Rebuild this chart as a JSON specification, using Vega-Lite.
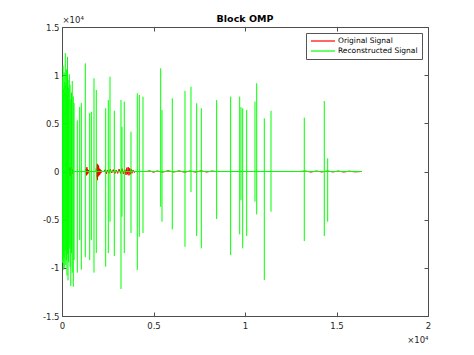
{
  "$schema": "https://vega.github.io/schema/vega-lite/v6.json",
  "width": 366,
  "height": 289,
  "autosize": "none",
  "padding": {"left": 62, "top": 27, "right": 46, "bottom": 39},
  "background": "white",
  "config": {
    "view": {"stroke": null},
    "font": "DejaVu Sans",
    "axis": {
      "grid": false,
      "domainColor": "#4d4d4d",
      "domainWidth": 1,
      "tickColor": "#4d4d4d",
      "tickSize": -4,
      "labelFont": "DejaVu Sans",
      "labelFontSize": 8.5,
      "labelColor": "#262626",
      "titleFont": "DejaVu Sans",
      "titleFontSize": 8.5,
      "titleFontWeight": "normal",
      "titleColor": "#262626"
    }
  },
  "title": {"text": "Block OMP", "fontSize": 9.5, "fontWeight": "bold", "color": "black", "offset": -8, "font": "DejaVu Sans"},
  "datasets": {
    "orig": [
      {"x": 0, "y": 0}, {"x": 380, "y": 0}, {"x": 400, "y": 350}, {"x": 420, "y": -300}, {"x": 440, "y": 450}, {"x": 460, "y": -500}, {"x": 480, "y": 300}, {"x": 500, "y": -350}, {"x": 520, "y": 500}, {"x": 540, "y": -250}, {"x": 560, "y": 200}, {"x": 580, "y": -150}, {"x": 600, "y": 100}, {"x": 620, "y": 0},
      {"x": 1300, "y": 0}, {"x": 1320, "y": 300}, {"x": 1340, "y": -400}, {"x": 1360, "y": 450}, {"x": 1380, "y": -300}, {"x": 1400, "y": 250}, {"x": 1420, "y": -200}, {"x": 1440, "y": 150}, {"x": 1460, "y": 0},
      {"x": 1860, "y": 0}, {"x": 1880, "y": 400}, {"x": 1900, "y": -600}, {"x": 1920, "y": 800}, {"x": 1940, "y": -900}, {"x": 1960, "y": 700}, {"x": 1980, "y": -500}, {"x": 2000, "y": 600}, {"x": 2020, "y": -400}, {"x": 2040, "y": 300}, {"x": 2060, "y": -350}, {"x": 2080, "y": 250}, {"x": 2100, "y": -200}, {"x": 2130, "y": 150}, {"x": 2160, "y": -100}, {"x": 2200, "y": 0},
      {"x": 2300, "y": 0}, {"x": 2360, "y": 200}, {"x": 2420, "y": -250}, {"x": 2480, "y": 150}, {"x": 2560, "y": -200}, {"x": 2640, "y": 250}, {"x": 2720, "y": -150}, {"x": 2800, "y": 200}, {"x": 2880, "y": -250}, {"x": 2960, "y": 150}, {"x": 3040, "y": -200}, {"x": 3120, "y": 250}, {"x": 3200, "y": -200}, {"x": 3280, "y": 300}, {"x": 3360, "y": -250}, {"x": 3440, "y": 200}, {"x": 3500, "y": -350}, {"x": 3540, "y": 400}, {"x": 3580, "y": -300}, {"x": 3620, "y": 450}, {"x": 3660, "y": -400}, {"x": 3700, "y": 350}, {"x": 3740, "y": -300}, {"x": 3780, "y": 250}, {"x": 3820, "y": -200}, {"x": 3880, "y": 150}, {"x": 3940, "y": -100}, {"x": 4000, "y": 0},
      {"x": 4600, "y": 0}, {"x": 4800, "y": 70}, {"x": 5000, "y": -80}, {"x": 5200, "y": 60}, {"x": 5500, "y": -70}, {"x": 5800, "y": 80}, {"x": 6100, "y": -60}, {"x": 6400, "y": 70}, {"x": 6700, "y": -80}, {"x": 7000, "y": 60}, {"x": 7300, "y": -70}, {"x": 7600, "y": 80}, {"x": 7900, "y": -60}, {"x": 8200, "y": 50}, {"x": 8400, "y": 0},
      {"x": 13000, "y": 0}, {"x": 13300, "y": 50}, {"x": 13600, "y": -60}, {"x": 13900, "y": 50}, {"x": 14200, "y": -50}, {"x": 14500, "y": 60}, {"x": 14800, "y": -50}, {"x": 15100, "y": 50}, {"x": 15400, "y": -60}, {"x": 15700, "y": 40}, {"x": 16000, "y": -40}, {"x": 16384, "y": 0}
    ],
    "spikes": [
      {"x": 30, "top": 9800, "bot": -9500},
      {"x": 60, "top": 11000, "bot": -8800},
      {"x": 90, "top": 8600, "bot": -10200},
      {"x": 120, "top": 10300, "bot": -9000},
      {"x": 150, "top": 9300, "bot": -10000},
      {"x": 180, "top": 12300, "bot": -8200},
      {"x": 210, "top": 9000, "bot": -9700},
      {"x": 240, "top": 10600, "bot": -9200},
      {"x": 270, "top": 8200, "bot": -10800},
      {"x": 300, "top": 11900, "bot": -8600},
      {"x": 330, "top": 9500, "bot": -11300},
      {"x": 360, "top": 8700, "bot": -9400},
      {"x": 400, "top": 10100, "bot": -8000},
      {"x": 440, "top": 9000, "bot": -9900},
      {"x": 480, "top": 7500, "bot": -11900},
      {"x": 520, "top": 8200, "bot": -8500},
      {"x": 560, "top": 9400, "bot": -10500},
      {"x": 617, "top": 7800, "bot": -11960},
      {"x": 660, "top": 7100, "bot": -9200},
      {"x": 836, "top": 5300, "bot": -10500},
      {"x": 967, "top": 6700, "bot": -7100},
      {"x": 1055, "top": 7100, "bot": -10200},
      {"x": 1273, "top": 11230, "bot": -8900},
      {"x": 1514, "top": 6070, "bot": -9190},
      {"x": 1601, "top": 6200, "bot": -7100},
      {"x": 1748, "top": 9680, "bot": -10500},
      {"x": 1874, "top": 8460, "bot": -8460},
      {"x": 2388, "top": 6560, "bot": -9880},
      {"x": 2530, "top": 7420, "bot": -8460},
      {"x": 2623, "top": 9840, "bot": -5210},
      {"x": 2858, "top": 6310, "bot": -8770},
      {"x": 3224, "top": 7420, "bot": -12200},
      {"x": 3278, "top": 4650, "bot": -4690},
      {"x": 3404, "top": 7250, "bot": -8460},
      {"x": 3770, "top": 4130, "bot": -6380},
      {"x": 4114, "top": 8120, "bot": -10220},
      {"x": 4224, "top": 7940, "bot": -6770},
      {"x": 4426, "top": 7770, "bot": -6380},
      {"x": 5393, "top": 10710, "bot": -3650},
      {"x": 5464, "top": 6380, "bot": -5210},
      {"x": 6027, "top": 7600, "bot": -6000},
      {"x": 6721, "top": 8360, "bot": -7810},
      {"x": 7049, "top": 8810, "bot": -2130},
      {"x": 7360, "top": 7080, "bot": -6700},
      {"x": 7613, "top": 6560, "bot": -7980},
      {"x": 8452, "top": 7420, "bot": -4930},
      {"x": 9217, "top": 7770, "bot": -8670},
      {"x": 9710, "top": 7770, "bot": -6520},
      {"x": 9781, "top": 6670, "bot": -2960},
      {"x": 9874, "top": 6560, "bot": -7980},
      {"x": 10093, "top": 6390, "bot": -6700},
      {"x": 10546, "top": 7250, "bot": -3130},
      {"x": 10639, "top": 9160, "bot": -4450},
      {"x": 11055, "top": 5520, "bot": -11270},
      {"x": 11421, "top": 6310, "bot": -4170},
      {"x": 13240, "top": 5590, "bot": -7220},
      {"x": 14333, "top": 7320, "bot": -6700},
      {"x": 14519, "top": 1370, "bot": -5210}
    ],
    "base": [{"x0": 0, "x1": 16384, "y": 0}]
  },
  "layer": [
    {
      "data": {"name": "orig"},
      "mark": {"type": "line", "strokeWidth": 1, "interpolate": "linear"},
      "encoding": {
        "x": {"field": "x", "type": "quantitative", "scale": {"domain": [0, 20000], "nice": false, "zero": false},
              "axis": {"orient": "bottom", "values": [0, 5000, 10000, 15000, 20000], "labelExpr": "datum.value / 10000", "labelPadding": 9, "labelFlush": false, "title": "×10⁴", "titleAnchor": "end", "titleAlign": "right", "titleX": 366, "titleY": 28, "titleBaseline": "bottom"}},
        "y": {"field": "y", "type": "quantitative", "scale": {"domain": [-15000, 15000], "nice": false, "zero": false},
              "axis": {"orient": "left", "values": [-15000, -10000, -5000, 0, 5000, 10000, 15000], "labelExpr": "datum.value / 10000", "labelPadding": 7, "labelFlush": false, "title": "×10⁴", "titleAngle": 0, "titleX": 0, "titleY": -3, "titleAlign": "left", "titleBaseline": "bottom"}},
        "color": {"datum": "Original Signal", "type": "nominal",
                  "scale": {"domain": ["Original Signal", "Reconstructed Signal"], "range": ["#ff0000", "#00ff00"]},
                  "legend": {"title": null, "orient": "top-right", "offset": 6, "symbolType": "M-1,0H7", "symbolSize": 36, "symbolStrokeWidth": 1.2, "fillColor": "white", "strokeColor": "#555555", "padding": 4, "labelFontSize": 7.5, "labelFont": "DejaVu Sans", "labelColor": "black", "labelOffset": 20, "rowPadding": 2, "symbolOpacity": 1}}
      }
    },
    {
      "data": {"name": "spikes"},
      "mark": {"type": "rule", "strokeWidth": 1},
      "encoding": {
        "x": {"field": "x", "type": "quantitative", "axis": null},
        "y": {"field": "top", "type": "quantitative", "axis": null},
        "y2": {"field": "bot"},
        "color": {"datum": "Reconstructed Signal", "type": "nominal"}
      }
    },
    {
      "data": {"name": "base"},
      "mark": {"type": "rule", "strokeWidth": 1},
      "encoding": {
        "x": {"field": "x0", "type": "quantitative", "axis": null},
        "x2": {"field": "x1"},
        "y": {"field": "y", "type": "quantitative", "axis": null},
        "color": {"datum": "Reconstructed Signal", "type": "nominal"}
      }
    },
    {
      "data": {"name": "base"},
      "mark": {"type": "rule", "opacity": 0},
      "encoding": {
        "x": {"field": "x0", "type": "quantitative", "axis": {"orient": "top", "values": [0, 5000, 10000, 15000, 20000], "labels": false, "title": null}},
        "y": {"field": "y", "type": "quantitative", "axis": {"orient": "right", "values": [-15000, -10000, -5000, 0, 5000, 10000, 15000], "labels": false, "title": null}}
      }
    }
  ],
  "resolve": {"axis": {"x": "independent", "y": "independent"}}
}
